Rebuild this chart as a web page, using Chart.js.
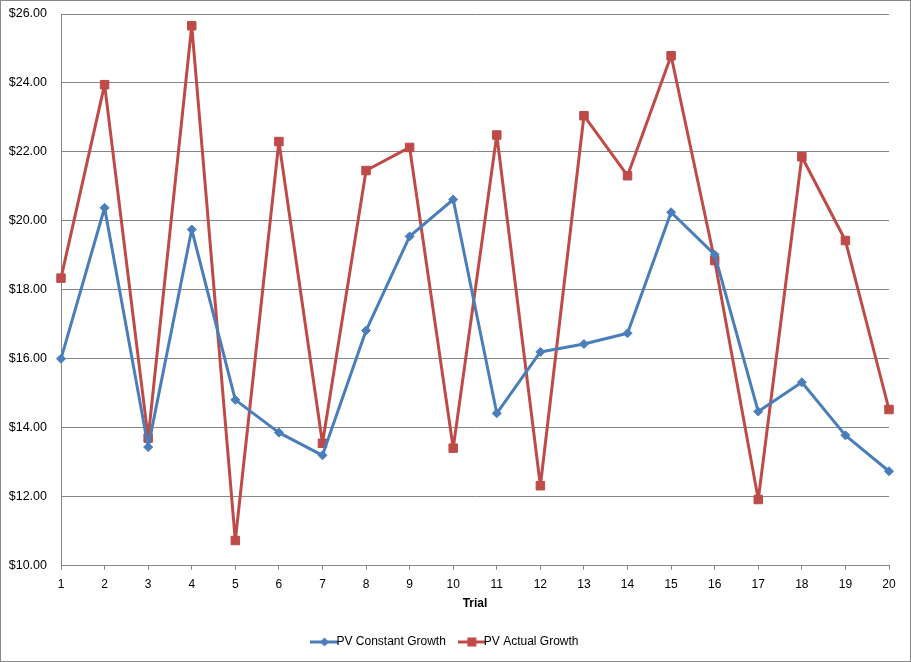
<!DOCTYPE html>
<html>
<head>
<meta charset="utf-8">
<script src="https://cdn.jsdelivr.net/npm/chart.js@4"></script>
<style>
  html, body { margin: 0; padding: 0; background: #fff; }
  #wrap { width: 911px; height: 662px; box-sizing: border-box; border: 1px solid #888; position: relative; }
  canvas { display: block; }
</style>
</head>
<body>
<div id="wrap"><canvas id="chart"></canvas></div>
<script>
// ===== Data =====
const trials = ["1","2","3","4","5","6","7","8","9","10","11","12","13","14","15","16","17","18","19","20"];
const pvConstant = [16.00, 20.38, 13.44, 19.75, 14.81, 13.86, 13.20, 16.82, 19.55, 20.62,
                    14.42, 16.20, 16.43, 16.74, 20.25, 19.02, 14.47, 15.32, 13.78, 12.74];
const pvActual = [18.34, 23.95, 13.70, 25.66, 10.73, 22.30, 13.55, 21.46, 22.13, 13.41,
                  22.49, 12.32, 23.05, 21.31, 24.79, 18.85, 11.92, 21.86, 19.43, 14.53];
const yTicks = [10, 12, 14, 16, 18, 20, 22, 24, 26];

const blue = "#4A7EBB";
const red = "#BE4B48";
const gridGray = "#868686";
const fontFamily = "'Liberation Sans', Arial, sans-serif";

// ===== Legend icons (line + marker, like the original) =====
function legendIcon(color, shape) {
  const c = document.createElement("canvas");
  c.width = 28; c.height = 12;
  const ctx = c.getContext("2d");
  ctx.strokeStyle = color;
  ctx.lineWidth = 3;
  ctx.beginPath(); ctx.moveTo(0, 6); ctx.lineTo(28, 6); ctx.stroke();
  ctx.fillStyle = color;
  ctx.beginPath();
  if (shape === "diamond") {
    ctx.moveTo(14, 1.5); ctx.lineTo(18.5, 6); ctx.lineTo(14, 10.5); ctx.lineTo(9.5, 6);
  } else {
    ctx.rect(9.5, 1.5, 9, 9);
  }
  ctx.closePath(); ctx.fill();
  return c;
}
const icons = [legendIcon(blue, "diamond"), legendIcon(red, "square")];

// ===== Chart =====
new Chart(document.getElementById("chart"), {
  type: "line",
  data: {
    labels: trials,
    datasets: [
      { label: "PV Constant Growth", data: pvConstant, borderColor: blue, backgroundColor: blue,
        borderWidth: 3, borderJoinStyle: "round", borderCapStyle: "round",
        pointStyle: "rectRot", pointRadius: 4.5, pointBorderWidth: 1, tension: 0 },
      { label: "PV Actual Growth", data: pvActual, borderColor: red, backgroundColor: red,
        borderWidth: 3, borderJoinStyle: "round", borderCapStyle: "round",
        pointStyle: "rect", pointRadius: 6, pointBorderWidth: 1, tension: 0 }
    ]
  },
  options: {
    responsive: true,
    maintainAspectRatio: false,
    animation: false,
    layout: { padding: { top: 13, right: 21, left: 7, bottom: 3 } },
    plugins: {
      tooltip: { enabled: false },
      legend: {
        position: "bottom",
        labels: {
          color: "#000",
          font: { family: fontFamily, size: 12 },
          usePointStyle: true,
          boxWidth: 28,
          boxHeight: 12,
          padding: 20,
          generateLabels: chart => chart.data.datasets.map((ds, i) => ({
            text: ds.label,
            pointStyle: icons[i],
            fillStyle: ds.borderColor,
            strokeStyle: ds.borderColor,
            lineWidth: 0,
            datasetIndex: i,
            hidden: false,
            fontColor: "#000"
          }))
        }
      }
    },
    scales: {
      x: {
        offset: false,
        grid: { display: true, drawOnChartArea: false, drawTicks: true, tickLength: 4, color: gridGray },
        border: { color: gridGray },
        ticks: { color: "#000", font: { family: fontFamily, size: 12 }, maxRotation: 0, padding: 8 },
        title: { display: true, text: "Trial", color: "#000", font: { family: fontFamily, size: 12, weight: "bold" }, padding: { top: -3.5, bottom: 5 } }
      },
      y: {
        min: 10,
        max: 26,
        afterBuildTicks: scale => { scale.ticks = yTicks.map(v => ({ value: v })); },
        afterFit: scale => { scale.width = 53; scale.paddingTop = 0; scale.paddingBottom = 0; },
        grid: { color: gridGray, drawTicks: false },
        border: { color: gridGray },
        ticks: {
          color: "#000",
          font: { family: fontFamily, size: 12.5 },
          padding: 14,
          callback: v => "$" + Number(v).toFixed(2)
        }
      }
    }
  }
});
</script>
</body>
</html>
